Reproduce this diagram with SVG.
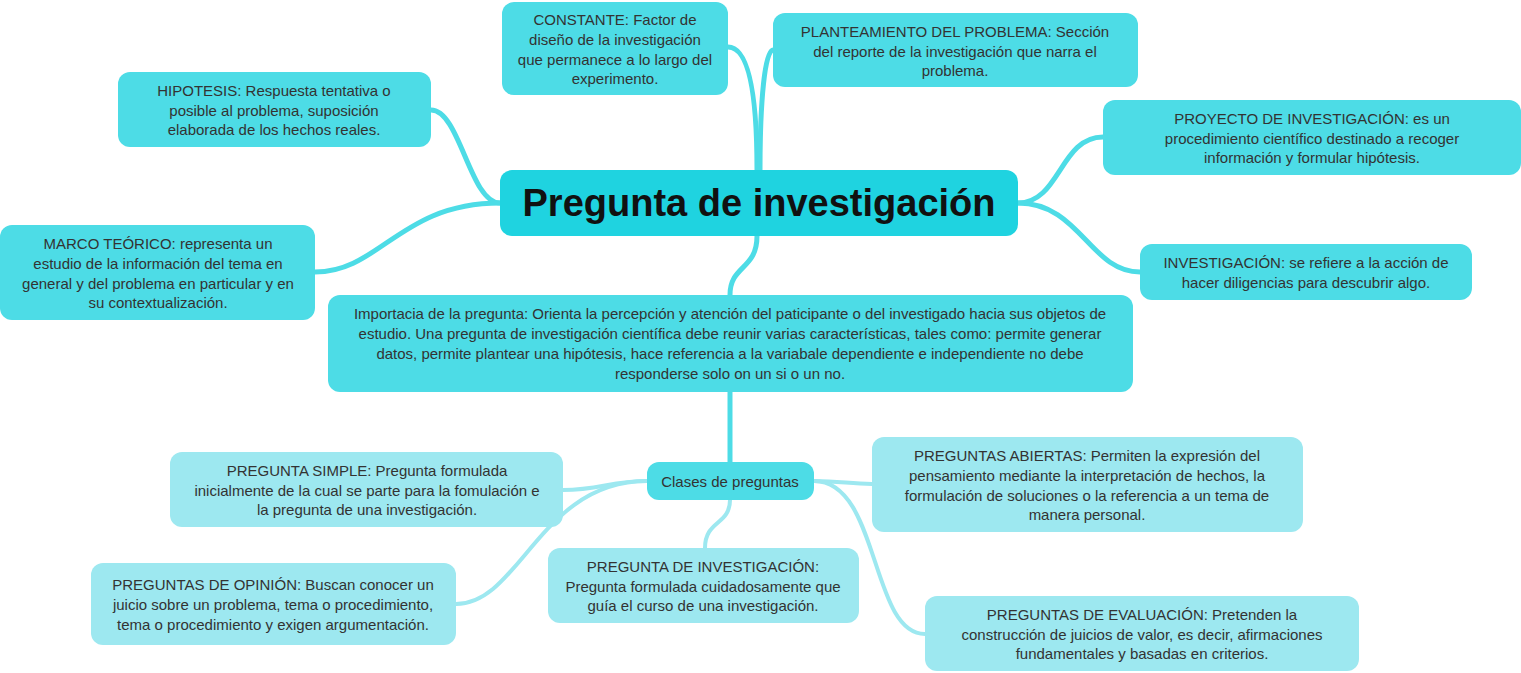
<svg xmlns="http://www.w3.org/2000/svg" width="1521" height="673" viewBox="0 0 1521 673">
<style>
.n1{fill:#4ddce6}.n2{fill:#9de8f0}.c{fill:#1fd3e0}
text{font-family:"Liberation Sans",Arial,sans-serif;font-size:15px;fill:#333;text-anchor:middle}
.t{font-size:38px;font-weight:bold;fill:#111}
.l1{fill:none;stroke:#4ddce6;stroke-width:5}
.l2{fill:none;stroke:#9de8f0;stroke-width:4}
</style>
<rect width="1521" height="673" fill="#fff"/>
<g id="connectors">
<path class="l1" d="M500,203 C470,203 460,110 431,110"/>
<path class="l1" d="M500,203 C400,203 380,272 315,272"/>
<path class="l1" d="M757,170 C757,100 750,47 728,47"/>
<path class="l1" d="M760,170 C760,100 765,50 773,50"/>
<path class="l1" d="M1018,203 C1060,203 1060,137 1103,137"/>
<path class="l1" d="M1018,203 C1080,203 1090,272 1140,272"/>
<path class="l1" d="M757,236 C757,270 730,265 730,295"/>
<path class="l1" d="M730,392 L730,462"/>
<path class="l2" d="M647,481 C610,481 600,490 563,490"/>
<path class="l2" d="M647,481 C540,481 520,604 456,604"/>
<path class="l2" d="M730,500 C730,525 705,520 705,548"/>
<path class="l2" d="M814,481 C840,481 850,484 872,484"/>
<path class="l2" d="M814,481 C880,481 870,634 925,634"/>
</g>
<g id="central"><rect class="c" x="500" y="170" width="518" height="66" rx="12"/><text class="t" x="759" y="216">Pregunta de investigación</text></g>
<g id="constante"><rect class="n1" x="502" y="2" width="226" height="93" rx="12"/><text x="615" y="25">CONSTANTE: Factor de</text><text x="615" y="45">diseño de la investigación</text><text x="615" y="65">que permanece a lo largo del</text><text x="615" y="84">experimento.</text></g>
<g id="planteamiento"><rect class="n1" x="773" y="13" width="365" height="74" rx="12"/><text x="955" y="37">PLANTEAMIENTO DEL PROBLEMA: Sección</text><text x="955" y="57">del reporte de la investigación que narra el</text><text x="955" y="76">problema.</text></g>
<g id="hipotesis"><rect class="n1" x="118" y="72" width="313" height="75" rx="12"/><text x="274" y="96">HIPOTESIS: Respuesta tentativa o</text><text x="274" y="116">posible al problema, suposición</text><text x="274" y="135">elaborada de los hechos reales.</text></g>
<g id="proyecto"><rect class="n1" x="1103" y="100" width="418" height="75" rx="12"/><text x="1312" y="124">PROYECTO DE INVESTIGACIÓN: es un</text><text x="1312" y="144">procedimiento científico destinado a recoger</text><text x="1312" y="163">información y formular hipótesis.</text></g>
<g id="marco"><rect class="n1" x="0" y="225" width="315" height="95" rx="12"/><text x="158" y="249">MARCO TEÓRICO: representa un</text><text x="158" y="269">estudio de la información del tema en</text><text x="158" y="289">general y del problema en particular y en</text><text x="158" y="308">su contextualización.</text></g>
<g id="investigacion"><rect class="n1" x="1140" y="244" width="332" height="56" rx="12"/><text x="1306" y="268">INVESTIGACIÓN: se refiere a la acción de</text><text x="1306" y="288">hacer diligencias para descubrir algo.</text></g>
<g id="importancia"><rect class="n1" x="328" y="295" width="805" height="97" rx="12"/><text x="730" y="319">Importacia de la pregunta: Orienta la percepción y atención del paticipante o del investigado hacia sus objetos de</text><text x="730" y="339">estudio. Una pregunta de investigación científica debe reunir varias características, tales como: permite generar</text><text x="730" y="359">datos, permite plantear una hipótesis, hace referencia a la variabale dependiente e independiente no debe</text><text x="730" y="379">responderse solo on un si o un no.</text></g>
<g id="clases"><rect class="n1" x="647" y="462" width="167" height="38" rx="12"/><text x="730" y="487">Clases de preguntas</text></g>
<g id="simple"><rect class="n2" x="170" y="452" width="393" height="75" rx="12"/><text x="367" y="476">PREGUNTA SIMPLE: Pregunta formulada</text><text x="367" y="496">inicialmente de la cual se parte para la fomulación e</text><text x="367" y="515">la pregunta de una investigación.</text></g>
<g id="abiertas"><rect class="n2" x="872" y="437" width="431" height="95" rx="12"/><text x="1087" y="461">PREGUNTAS ABIERTAS: Permiten la expresión del</text><text x="1087" y="481">pensamiento mediante la interpretación de hechos, la</text><text x="1087" y="501">formulación de soluciones o la referencia a un tema de</text><text x="1087" y="520">manera personal.</text></g>
<g id="opinion"><rect class="n2" x="91" y="563" width="365" height="82" rx="12"/><text x="273" y="590">PREGUNTAS DE OPINIÓN: Buscan conocer un</text><text x="273" y="610">juicio sobre un problema, tema o procedimiento,</text><text x="273" y="630">tema o procedimiento y exigen argumentación.</text></g>
<g id="preg_inv"><rect class="n2" x="548" y="548" width="311" height="75" rx="12"/><text x="703" y="572">PREGUNTA DE INVESTIGACIÓN:</text><text x="703" y="592">Pregunta formulada cuidadosamente que</text><text x="703" y="611">guía el curso de una investigación.</text></g>
<g id="evaluacion"><rect class="n2" x="925" y="596" width="434" height="75" rx="12"/><text x="1142" y="620">PREGUNTAS DE EVALUACIÓN: Pretenden la</text><text x="1142" y="640">construcción de juicios de valor, es decir, afirmaciones</text><text x="1142" y="659">fundamentales y basadas en criterios.</text></g>
</svg>
